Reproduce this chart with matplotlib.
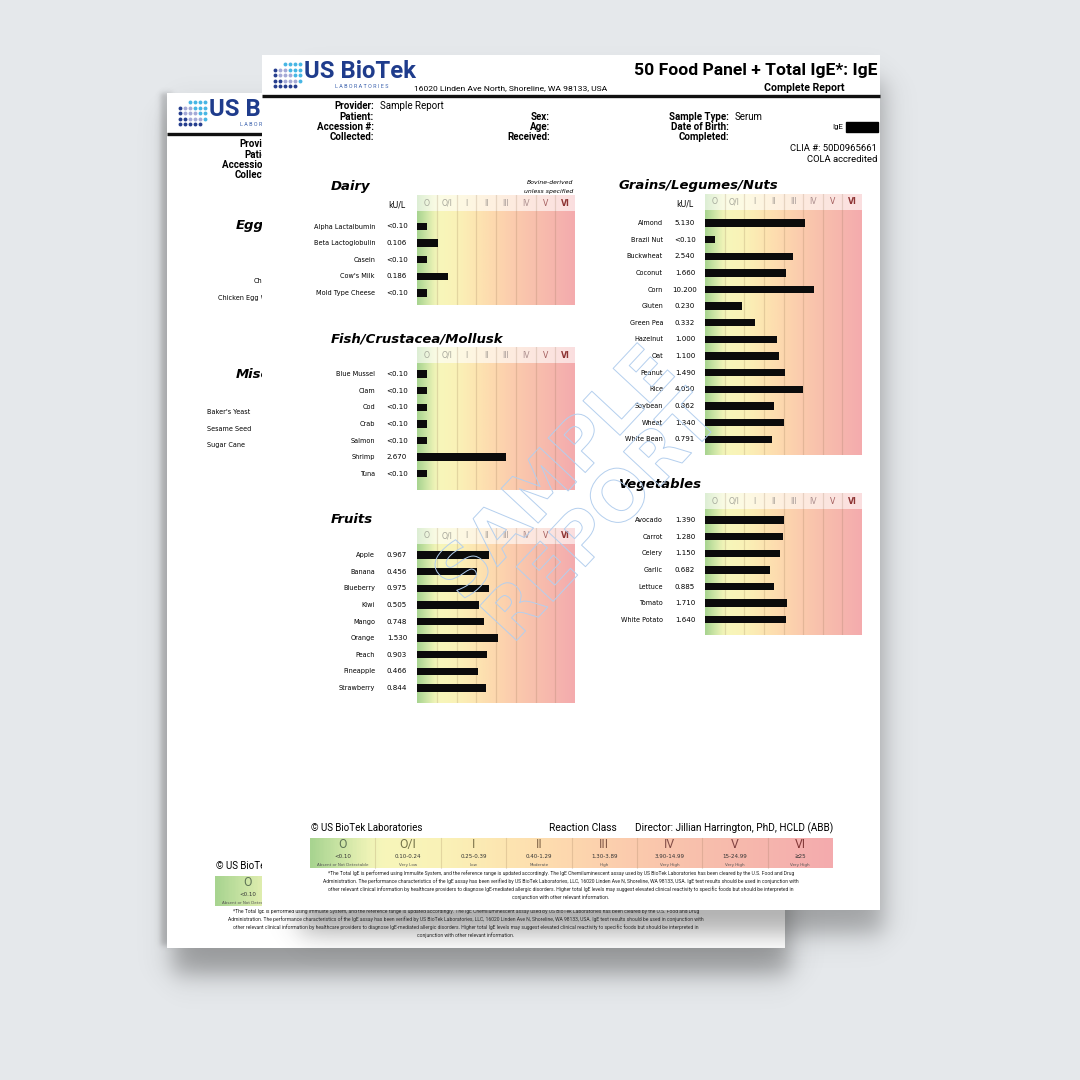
"""Mock-up of a US BioTek food panel report (two stacked pages)"""

import numpy as np
import matplotlib
matplotlib.use("Agg")
import matplotlib.pyplot as plt
import matplotlib.patches as mpatches
import matplotlib.transforms as mtransforms
import matplotlib.patheffects as pe
from matplotlib.colors import LinearSegmentedColormap

W, H = 1080, 1080
ROW = 16.63

# reaction classes
classes = ["O", "O/I", "I", "II", "III", "IV", "V", "VI"]
class_edges = [0, 0.10, 0.25, 0.40, 1.30, 3.90, 15, 25, 50]
class_ranges = ["<0.10", "0.10-0.24", "0.25-0.39", "0.40-1.29", "1.30-3.89",
                "3.90-14.99", "15-24.99", "\u226525"]
class_desc = ["Absent or Not Detectable", "Very Low", "Low", "Moderate", "High",
              "Very High", "Very High", "Very High"]

# results (kU/L)
dairy_foods = ["Alpha Lactalbumin", "Beta Lactoglobulin", "Casein", "Cow's Milk",
               "Mold Type Cheese"]
dairy_vals = ["<0.10", "0.106", "<0.10", "0.186", "<0.10"]

fish_foods = ["Blue Mussel", "Clam", "Cod", "Crab", "Salmon", "Shrimp", "Tuna"]
fish_vals = ["<0.10", "<0.10", "<0.10", "<0.10", "<0.10", "2.670", "<0.10"]

fruit_foods = ["Apple", "Banana", "Blueberry", "Kiwi", "Mango", "Orange", "Peach",
               "Pineapple", "Strawberry"]
fruit_vals = ["0.967", "0.456", "0.975", "0.505", "0.748", "1.530", "0.903",
              "0.466", "0.844"]

grain_foods = ["Almond", "Brazil Nut", "Buckwheat", "Coconut", "Corn", "Gluten",
               "Green Pea", "Hazelnut", "Oat", "Peanut", "Rice", "Soybean", "Wheat",
               "White Bean"]
grain_vals = ["5.130", "<0.10", "2.540", "1.660", "10.200", "0.230", "0.332",
              "1.000", "1.100", "1.490", "4.050", "0.862", "1.340", "0.791"]

veg_foods = ["Avocado", "Carrot", "Celery", "Garlic", "Lettuce", "Tomato",
             "White Potato"]
veg_vals = ["1.390", "1.280", "1.150", "0.682", "0.885", "1.710", "1.640"]

# page behind: only the left strip shows
back_egg_foods = ["Chicken", "Chicken Egg White", "Lamb"]
back_misc_foods = ["Baker's Yeast", "Sesame Seed", "Sugar Cane"]

footnote = [
    "*The Total IgE is performed using Immulite System, and the reference range is updated accordingly. "
    "The IgE Chemiluminescent assay used by US BioTek Laboratories has been cleared by the U.S. Food and Drug",
    "Administration. The performance characteristics of the IgE assay has been verified by US BioTek Laboratories, "
    "LLC, 16020 Linden Ave N, Shoreline, WA 98133, USA. IgE test results should be used in conjunction with",
    "other relevant clinical information by healthcare providers to diagnose IgE-mediated allergic disorders. "
    "Higher total IgE levels may suggest elevated clinical reactivity to specific foods but should be interpreted in",
    "conjunction with other relevant information.",
]

reaction_cmap = LinearSegmentedColormap.from_list("reaction", [
    (0.0, "#a8d490"), (0.06, "#cee6a6"), (0.11, "#eef3b6"), (0.14, "#f7f6ba"),
    (0.25, "#faf2b7"), (0.375, "#fde5b1"), (0.5, "#fdd7ae"), (0.625, "#fbcaad"),
    (0.75, "#f8bfac"), (0.875, "#f6b5ad"), (1.0, "#f4abae")])
head_colors = ["#a6aa9c", "#a6a69a", "#a8a49a", "#aaa29a", "#aa9e9a", "#ad8f8f",
               "#a45e5e", "#8e3434"]
legend_colors = ["#5f7556", "#75744a", "#7e744c", "#84684a", "#845a48", "#844e48",
                 "#844444", "#853a3a"]

LOGO = ["..cccc", "nllccc", "nlllcc", "nnlllc", "nnnnn."]
LOGO_COL = {"c": "#46b6e4", "l": "#a4a9d6", "n": "#263e8e"}


def to_num(s):
    # undetectable results sit in the middle of class O
    return 0.05 if s.startswith("<") else float(s)


fig = plt.figure(figsize=(W / 100, H / 100), dpi=100, facecolor="#e5e8eb")
main = fig.add_axes([0, 0, 1, 1])
main.axis("off")


def soft_shadow(x0, y0, x1, y1, blur, strength, z):
    xs = np.linspace(0, W, 540)
    ys = np.linspace(0, H, 540)
    fx = 0.25 * (1 + np.tanh((xs - x0) / blur)) * (1 + np.tanh((x1 - xs) / blur))
    fy = 0.25 * (1 + np.tanh((ys - y0) / blur)) * (1 + np.tanh((y1 - ys) / blur))
    rgba = np.zeros((len(ys), len(xs), 4))
    rgba[..., :3] = 0.22
    rgba[..., 3] = strength * np.outer(fy, fx)
    main.imshow(rgba, extent=(0, W, H, 0), aspect="auto", zorder=z,
                interpolation="bilinear")


def draw_page(dx, dy, z, full=True):
    # full=False: page lying behind, skip what the top page hides completely
    main.add_patch(mpatches.Rectangle((262 + dx, 55 + dy), 618, 855, facecolor="white",
                                      edgecolor="none", zorder=z))
    z += 1
    # logo
    for r, row in enumerate(LOGO):
        for c, ch in enumerate(row):
            if ch != ".":
                main.plot(275 + dx + c * 5, 64 + dy + r * 5.5, "o", ms=2.8,
                          color=LOGO_COL[ch], mew=0, zorder=z)
    main.text(304 + dx, 71.5 + dy, "US BioTek", family="Roboto", fontweight="bold",
              fontsize=17.2, color="#1f3c8c", va="center", zorder=z)
    main.text(362 + dx, 86.5 + dy, " ".join("LABORATORIES"), ha="center", va="center",
              fontsize=3.9, color="#3d63ae", family="Roboto", zorder=z)
    main.plot([262 + dx, 880 + dx], [96 + dy, 96 + dy], lw=2.4, color="#111111",
              solid_capstyle="butt", zorder=z)
    fs = 7.0
    rows = [106, 116.5, 127, 137.5]
    for y, lab in zip(rows, ["Provider:", "Patient:", "Accession #:", "Collected:"]):
        main.text(374 + dx, y + dy, lab, ha="right", va="center", fontsize=fs,
                  fontweight="bold", family="Roboto", zorder=z)
    copy = "\u00a9 US BioTek Laboratories" if full else "\u00a9 US BioTek"
    main.text(311 + dx, 828 + dy, copy, va="center", fontsize=7.0, family="Roboto",
              zorder=z)

    if full:
        main.text(414 + dx, 88.5 + dy, "16020 Linden Ave North, Shoreline, WA 98133, USA",
                  fontsize=6.1, va="center", family="Roboto", zorder=z)
        main.text(877 + dx, 71 + dy, "50 Food Panel + Total IgE*: IgE", ha="right",
                  va="center", fontsize=12.6, fontweight="bold", family="Roboto",
                  zorder=z)
        main.text(844 + dx, 88 + dy, "Complete Report", ha="right", va="center",
                  fontsize=7.6, fontweight="bold", family="Roboto", zorder=z)
        for y, lab in zip(rows[1:], ["Sex:", "Age:", "Received:"]):
            main.text(550 + dx, y + dy, lab, ha="right", va="center", fontsize=fs,
                      fontweight="bold", family="Roboto", zorder=z)
        for y, lab in zip(rows[1:], ["Sample Type:", "Date of Birth:", "Completed:"]):
            main.text(729 + dx, y + dy, lab, ha="right", va="center", fontsize=fs,
                      fontweight="bold", family="Roboto", zorder=z)
        main.text(380 + dx, rows[0] + dy, "Sample Report", va="center", fontsize=fs,
                  family="Roboto", zorder=z)
        main.text(735 + dx, rows[1] + dy, "Serum", va="center", fontsize=fs,
                  family="Roboto", zorder=z)
        main.text(843 + dx, rows[2] + dy, "IgE", ha="right", va="center", fontsize=5.6,
                  family="Roboto", zorder=z)
        main.add_patch(mpatches.Rectangle((846 + dx, 122 + dy), 32, 10, color="black",
                                          zorder=z))
        main.text(877 + dx, 148.5 + dy, "CLIA #: 50D0965661", ha="right", va="center",
                  fontsize=6.8, family="Roboto", zorder=z)
        main.text(877 + dx, 159 + dy, "COLA accredited", ha="right", va="center",
                  fontsize=6.8, family="Roboto", zorder=z)
        main.text(583 + dx, 828 + dy, "Reaction Class", ha="center", va="center",
                  fontsize=7.4, family="Roboto", zorder=z)
        main.text(833 + dx, 828 + dy, "Director: Jillian Harrington, PhD, HCLD (ABB)",
                  ha="right", va="center", fontsize=7.2, family="Roboto", zorder=z)

    # reaction class legend
    lx0, lx1, ly0, ly1 = 310 + dx, 833 + dx, 838 + dy, 868 + dy
    grad = np.linspace(0, 1, 400).reshape(1, -1)
    main.imshow(grad, cmap=reaction_cmap, extent=(lx0, lx1, ly1, ly0), aspect="auto",
                zorder=z)
    cw = (lx1 - lx0) / 8
    for k in range(8):
        cx = lx0 + cw * (k + 0.5)
        if k:
            main.plot([lx0 + cw * k] * 2, [ly0, ly1], color="#8a6a4a", alpha=0.2,
                      lw=0.8, zorder=z + 1)
        if not full and k > 0:
            continue
        main.text(cx, 844.3 + dy, classes[k], ha="center", va="center", fontsize=8.8,
                  color=legend_colors[k], family="Roboto", zorder=z + 1)
        main.text(cx, 857.0 + dy, class_ranges[k], ha="center", va="center",
                  fontsize=4.0, color="#333333", family="DejaVu Sans", zorder=z + 1)
        main.text(cx, 864.6 + dy, class_desc[k], ha="center", va="center",
                  fontsize=2.9, color="#555555", family="DejaVu Sans", zorder=z + 1)
    for i, line in enumerate(footnote):
        main.text(561 + dx, 873.3 + dy + i * 8, line, ha="center", va="center",
                  fontsize=3.65, family="Roboto", color="#222222", zorder=z)


def panel(x0, x1, y_first, y_head_top, y_head_bot, y_bot, foods, vals, title,
          kul=False, note=False):
    ax = fig.add_axes([x0 / W, 1 - y_bot / H, (x1 - x0) / W, (y_bot - y_head_top) / H])
    ax.axis("off")
    n = len(foods)
    top = (y_head_top - y_first) / ROW
    hb = (y_head_bot - y_first) / ROW
    bot = (y_bot - y_first) / ROW
    grad = np.linspace(0, 1, 400).reshape(1, -1)
    ax.imshow(grad, cmap=reaction_cmap, aspect="auto", extent=(0, 8, bot, top), zorder=0)
    ax.axhspan(top, hb, color="white", alpha=0.62, lw=0, zorder=1)
    for k in range(1, 8):
        ax.axvline(k, color="#8a6a4a", alpha=0.2, lw=0.9, zorder=1)
    for k, c in enumerate(classes):
        ax.text(k + 0.5, (top + hb) / 2, c, ha="center", va="center", fontsize=5.6,
                color=head_colors[k], fontweight="bold" if k == 7 else "normal")
    pos = np.interp([to_num(v) for v in vals], class_edges, np.arange(9))
    ax.barh(np.arange(n), pos, height=0.44, color="#0b0b0b", zorder=3)
    ax.set_xlim(0, 8)
    ax.set_ylim(bot, top)

    tr = mtransforms.blended_transform_factory(main.transData, ax.transData)
    for i, (f, v) in enumerate(zip(foods, vals)):
        ax.text(x0 - 42, i, f, transform=tr, ha="right", va="center", fontsize=4.7)
        ax.text(x0 - 20, i, v, transform=tr, ha="center", va="center", fontsize=5.1)
    if kul:
        ax.text(x0 - 20, (top + hb) / 2 + 0.1, "kU/L", transform=tr, ha="center",
                va="center", fontsize=5.6)
    main.text(x0 - 86, y_head_top - 8.5, title, fontsize=9.5, fontweight="bold",
              fontstyle="italic", va="center", zorder=20)
    if note:
        main.text(x1 - 2, y_head_top - 12, "Bovine-derived", ha="right", va="center",
                  fontsize=4.4, fontstyle="italic", zorder=20)
        main.text(x1 - 2, y_head_top - 4, "unless specified", ha="right", va="center",
                  fontsize=4.4, fontstyle="italic", zorder=20)


# background shadows and the page behind
soft_shadow(172, 110, 790, 975, 15, 0.45, 1)
soft_shadow(160, 92, 172, 946, 3, 0.25, 1)
draw_page(-95, 38, 2, full=False)
for i, f in enumerate(back_egg_foods):
    main.text(280, 281 + i * ROW, f, ha="right", va="center", fontsize=4.7, zorder=3)
for i, f in enumerate(back_misc_foods):
    main.text(207, 412 + i * ROW, f, va="center", fontsize=4.7, zorder=3)
main.text(236, 226, "Eggs/Meat", fontsize=9.5, fontweight="bold", fontstyle="italic",
          va="center", zorder=3)
main.text(236, 374, "Misc", fontsize=9.5, fontweight="bold", fontstyle="italic",
          va="center", zorder=3)

# front page
soft_shadow(300, 80, 884, 934, 15, 0.40, 6)
draw_page(0, 0, 8)

main.set_xlim(0, W)
main.set_ylim(H, 0)

panel(417, 575, 226.5, 195, 211, 305, dairy_foods, dairy_vals, "Dairy", kul=True,
      note=True)
panel(417, 575, 374, 347, 363, 490, fish_foods, fish_vals, "Fish/Crustacea/Mollusk")
panel(417, 575, 555, 528, 544, 703, fruit_foods, fruit_vals, "Fruits")
panel(705, 862, 223, 194, 210, 455, grain_foods, grain_vals, "Grains/Legumes/Nuts",
      kul=True)
panel(705, 862, 520, 493, 509, 635, veg_foods, veg_vals, "Vegetables")

# watermark
fig.text(0.537, 0.54, "SAMPLE\nREPORT", ha="center", va="center", rotation=47,
         rotation_mode="anchor", fontsize=50, fontweight="bold", color=(1, 1, 1, 0),
         linespacing=0.95, multialignment="center",
         path_effects=[pe.Stroke(linewidth=0.7, foreground="#b4cfee")])

fig.savefig("out.png", dpi=100, facecolor=fig.get_facecolor())
